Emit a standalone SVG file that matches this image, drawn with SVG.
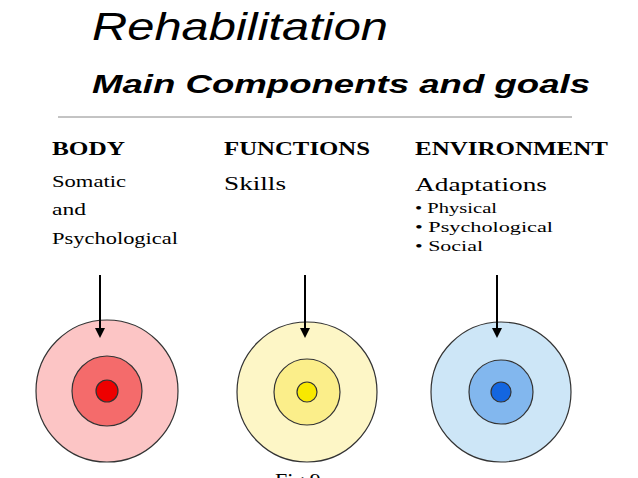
<svg xmlns="http://www.w3.org/2000/svg" width="638" height="478" viewBox="0 0 638 478">
<style>
.t{font-family:"Liberation Sans",Arial,sans-serif;font-style:italic}
.s{font-family:"Liberation Serif","Times New Roman",serif;fill:#000}
.h{font-weight:bold;font-size:18px}
.c{stroke:#333;stroke-width:1.2}
</style>
<defs><marker id="ar" markerWidth="10" markerHeight="10" refX="8" refY="5" orient="auto" markerUnits="userSpaceOnUse"><path d="M0,0L10,5L0,10z" fill="#000"/></marker></defs>
<rect width="638" height="478" fill="#fff"/>
<text class="t" x="92" y="40" font-size="38" textLength="296" lengthAdjust="spacingAndGlyphs">Rehabilitation</text>
<text class="t" x="92" y="93" font-size="25" font-weight="bold" textLength="498" lengthAdjust="spacingAndGlyphs">Main Components and  goals</text>
<line x1="58" y1="117" x2="572" y2="117" stroke="#888" stroke-width="1"/>
<g id="body"><text class="s h" x="52" y="155" textLength="73" lengthAdjust="spacingAndGlyphs">BODY</text>
<text class="s" x="52" y="187" font-size="16" textLength="74" lengthAdjust="spacingAndGlyphs">Somatic</text>
<text class="s" x="52" y="215" font-size="16" textLength="34" lengthAdjust="spacingAndGlyphs">and</text>
<text class="s" x="52" y="244" font-size="16" textLength="126" lengthAdjust="spacingAndGlyphs">Psychological</text>
<circle class="c" cx="107" cy="391" r="71" fill="#fcc5c5"/>
<circle class="c" cx="107" cy="391" r="35" fill="#f46b6b"/>
<circle class="c" cx="107" cy="391" r="11" fill="#ee0000"/></g>
<g id="functions"><text class="s h" x="224" y="155" textLength="146" lengthAdjust="spacingAndGlyphs">FUNCTIONS</text>
<text class="s" x="224" y="190" font-size="18" textLength="62" lengthAdjust="spacingAndGlyphs">Skills</text>
<circle class="c" cx="307" cy="392" r="70" fill="#fdf6c6"/>
<circle class="c" cx="307" cy="392" r="33" fill="#fbee8a"/>
<circle class="c" cx="307" cy="392" r="10" fill="#f8e800"/></g>
<g id="environment"><text class="s h" x="415" y="155" textLength="193" lengthAdjust="spacingAndGlyphs">ENVIRONMENT</text>
<text class="s" x="415" y="191" font-size="18" textLength="132" lengthAdjust="spacingAndGlyphs">Adaptations</text>
<text class="s" x="415" y="213" font-size="15" textLength="82" lengthAdjust="spacingAndGlyphs">• Physical</text>
<text class="s" x="415" y="232" font-size="15" textLength="138" lengthAdjust="spacingAndGlyphs">• Psychological</text>
<text class="s" x="415" y="251" font-size="15" textLength="68" lengthAdjust="spacingAndGlyphs">• Social</text>
<circle class="c" cx="501" cy="392" r="70" fill="#cde6f7"/>
<circle class="c" cx="501" cy="392" r="32" fill="#82b7ee"/>
<circle class="c" cx="501" cy="392" r="10" fill="#1466e0"/></g>
<g id="connectors" stroke="#000" stroke-width="2">
<line x1="100" y1="275" x2="100" y2="336" marker-end="url(#ar)"/>
<line x1="305" y1="275" x2="305" y2="336" marker-end="url(#ar)"/>
<line x1="497" y1="275" x2="497" y2="336" marker-end="url(#ar)"/>
</g>
<text class="s" x="275" y="488" font-size="22">Fig 9</text>
</svg>
